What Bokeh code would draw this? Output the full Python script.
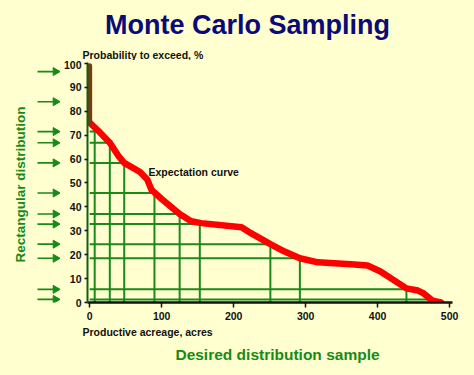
import math
from bokeh.plotting import figure
from bokeh.layouts import row, column
from bokeh.models import Range1d, Label, FixedTicker
from bokeh.embed import file_html
from bokeh.resources import INLINE

# ---------------- data ----------------
arrow_prob = [96.6, 84.0, 71.5, 66.8, 58.4, 45.8, 37.0, 32.8, 24.4, 18.5, 5.5, 1.3]
sample_acreage = [0, 0, 7, 28, 48, 90, 125, 153, 251, 292, 440, 477]

curve_acreage = [0, 12, 28, 40, 48, 70, 80, 86, 100, 125, 141, 155, 211, 224,
                 251, 270, 292, 317, 363, 386, 404, 440, 456, 464, 476, 488]
curve_prob = [75.2, 71.8, 66.8, 61.3, 58.4, 54.6, 51.5, 47.1, 43.3, 37.0, 34.0, 33.2,
              31.5, 29.0, 24.4, 21.4, 18.5, 16.8, 16.0, 15.5, 13.0, 5.9, 5.0, 3.8, 0.8, 0.0]

upper_acreage = [0, 0]
upper_prob = [75.2, 99.0]

x_ticks = [0, 100, 200, 300, 400, 500]
y_ticks = [0, 10, 20, 30, 40, 50, 60, 70, 80, 90, 100]

# ---------------- styles ----------------
BG = "#FFFFD0"
GREEN = "#178a17"
GRID_GREEN = "#1a8a1a"
FONT = "Liberation Sans"


def add_label(fig, x, y, text, size, color="#111111", align="left", angle=0):
    fig.add_layout(Label(x=x, y=y, text=text, text_font=FONT, text_font_style="bold",
                         text_font_size=size, text_color=color, text_align=align,
                         text_baseline="middle", angle=angle))


def blank(width, height, x_range, y_range, **kw):
    f = figure(width=width, height=height, x_range=x_range, y_range=y_range,
               x_axis_location=None, y_axis_location=None,
               output_backend="svg", toolbar_location=None,
               background_fill_color=BG, border_fill_color=BG, outline_line_color=None,
               **kw)
    f.grid.visible = False
    return f


# ---------------- top strip: titles ----------------
pt = blank(474, 60, Range1d(0, 474), Range1d(60, 0),
           min_border_left=0, min_border_right=0, min_border_top=0, min_border_bottom=0)
add_label(pt, 247, 24, "Monte Carlo Sampling", "27px", color="#0a0a78", align="center")
add_label(pt, 82, 54, "Probability to exceed, %", "10.5px")

# ---------------- main figure ----------------
p = figure(width=414, height=266, x_range=Range1d(-3, 504), y_range=Range1d(0, 100.4),
           output_backend="svg", toolbar_location=None,
           min_border_left=26, min_border_right=22, min_border_top=2, min_border_bottom=24,
           background_fill_color=BG, border_fill_color=BG, outline_line_color=None)
p.grid.visible = False

# green sampling grid
hx0, hx1, hy = [], [], []
vx, vy0 = [], []
for a, pr in zip(sample_acreage, arrow_prob):
    if a > 0:
        hx0.append(0); hx1.append(a); hy.append(pr)
        vx.append(a); vy0.append(pr)
zeros = [0] * len(vx)
p.segment(x0=hx0, y0=hy, x1=hx1, y1=hy, line_color=GRID_GREEN, line_width=2)
p.segment(x0=vx, y0=vy0, x1=vx, y1=zeros, line_color=GRID_GREEN, line_width=2)

# expectation curve
p.line(curve_acreage, curve_prob, line_color="#ff0000", line_width=6.5,
       line_cap="round", line_join="round")
p.line(upper_acreage, upper_prob, line_color="#7b3a12", line_width=5, line_cap="round")
add_label(p, 81.7, 54.4, "Expectation curve", "10.5px")

# axes
p.xaxis.ticker = FixedTicker(ticks=x_ticks)
p.yaxis.ticker = FixedTicker(ticks=y_ticks)
for ax in (p.xaxis, p.yaxis):
    ax.minor_tick_line_color = None
    ax.major_tick_in = 0
    ax.major_label_text_font = FONT
    ax.major_label_text_font_style = "bold"
    ax.major_label_text_font_size = "10.5px"
    ax.major_label_text_color = "#111111"
    ax.major_tick_line_color = "#111111"
    ax.major_tick_line_width = 1.5
p.xaxis.major_tick_out = 5
p.xaxis.major_label_standoff = 4
p.xaxis.axis_line_color = "#111111"
p.xaxis.axis_line_width = 2.5
p.yaxis.major_tick_out = 3
p.yaxis.major_label_standoff = 3
p.yaxis.axis_line_color = "#145c14"
p.yaxis.axis_line_width = 2

# ---------------- left figure: arrows ----------------
pl = blank(60, 266, Range1d(0, 60), p.y_range,
           min_border_left=0, min_border_right=0, min_border_top=2, min_border_bottom=24)
n = len(arrow_prob)
pl.segment(x0=[37] * n, y0=arrow_prob, x1=[53] * n, y1=arrow_prob,
           line_color=GREEN, line_width=1.6)
pl.scatter(x=[55] * n, y=arrow_prob, marker="triangle", size=8, angle=-math.pi / 2,
           fill_color=GREEN, line_color=GREEN)
add_label(pl, 20, 49.4, "Rectangular distribution", "13.5px", color=GREEN,
          align="center", angle=math.pi / 2)

# ---------------- bottom strip: axis caption ----------------
pb = blank(474, 49, Range1d(0, 474), Range1d(49, 0),
           min_border_left=0, min_border_right=0, min_border_top=0, min_border_bottom=0)
add_label(pb, 82, 5.5, "Productive acreage, acres", "10.5px")
add_label(pb, 277, 28, "Desired distribution sample", "15.5px", color=GREEN, align="center")

middle = row(pl, p, styles={"background-color": BG})
layout = column(pt, middle, pb, styles={"background-color": BG})
open("out.html", "w").write(file_html(layout, INLINE))
